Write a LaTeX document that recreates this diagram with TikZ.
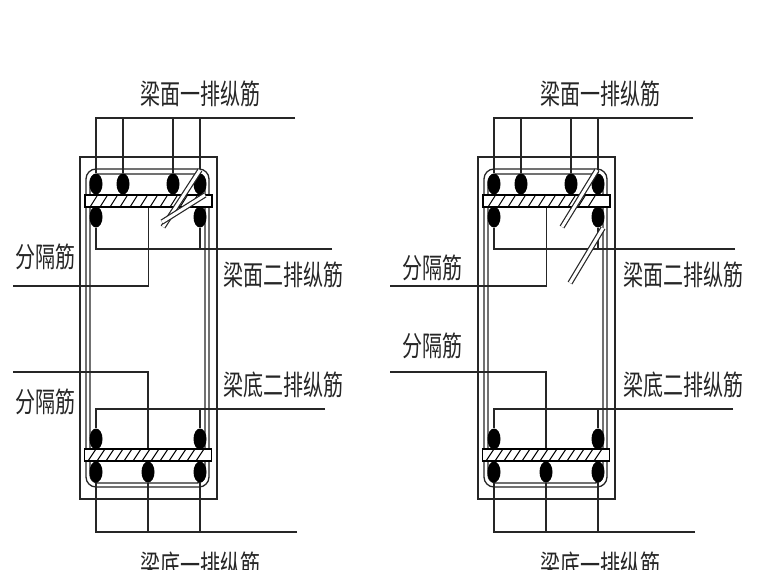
\documentclass[tikz,border=0pt]{standalone}
\usepackage{graphicx}
\usepackage{fontspec}
\usepackage{tikz}
\usetikzlibrary{shapes.geometric}
\newfontfamily\cjk{Noto Sans CJK SC}
\newcommand{\lbltext}[1]{\scalebox{1}[1.4]{#1}}
\tikzset{
  lead/.style={draw, line width=1.2pt, black!85},
  stirrup/.style={draw, line width=1.3pt, black!85},
  rebar/.style={ellipse, fill=black, inner sep=0pt, minimum width=13pt, minimum height=21pt},
  spacer/.style={rectangle, draw, fill=white, line width=1.2pt, inner sep=0pt, minimum width=127pt, minimum height=12pt},
  bentbar/.style={draw=black!85, line width=1.2pt, double=white, double distance=3pt},
  lbl/.style={inner sep=0pt, text=black!85, font=\cjk\fontsize{20}{20}\selectfont},
}
% parts that both sections share, leader ends are set in each scope
\newcommand{\beamsection}[1]{
  \draw[lead] (80,157) rectangle (217,499);
  \draw[stirrup, rounded corners=10pt] (86,169) rectangle (209,487);
  \draw[stirrup, rounded corners=8pt] (90,174) rectangle (205,483);
  \node (spacerT) [spacer] at (148.5,201) {};
  \node (spacerB) [spacer] at (148,455) {};
  \foreach \hx in {90,100,...,195} {\draw[line width=1pt] (\hx,207) -- (\hx+7,196);}
  \foreach \hx in {88,97,...,202} {\draw[line width=1pt] (\hx,461) -- (\hx+8,449);}
  \node (t1) [rebar] at (96,184) {};
  \node (t2) [rebar] at (123,184) {};
  \node (t3) [rebar] at (173,184) {};
  \node (t4) [rebar] at (200,184) {};
  \node (u1) [rebar] at (96,217) {};
  \node (u2) [rebar] at (200,217) {};
  \node (v1) [rebar] at (96,439) {};
  \node (v2) [rebar] at (200,439) {};
  \node (b1) [rebar] at (96,472) {};
  \node (b2) [rebar] at (148,472) {};
  \node (b3) [rebar] at (200,472) {};
  \draw[lead] (topend) -| (t1.north);
  \draw[lead] (t2.north) -- (t2 |- topend);
  \draw[lead] (t3.north) -- (t3 |- topend);
  \draw[lead] (t4.north) -- (t4 |- topend);
  \draw[lead] (secend) -| (u1.south);
  \draw[lead] (u2.south) -- (u2 |- secend);
  \draw[lead] (partT) -| (spacerT.south);
  \draw[lead] (partB) -| (spacerB.north);
  \draw[lead] (lowend) -| (v1.north);
  \draw[lead] (v2.north) -- (v2 |- lowend);
  \draw[lead] (botend) -| (b1.south);
  \draw[lead] (b2.south) -- (b2 |- botend);
  \draw[lead] (b3.south) -- (b3 |- botend);
  \node (topname) [lbl] at (200+#1,94) {\lbltext{梁面一排纵筋}};
  \node (secname) [lbl] at (283+#1,275) {\lbltext{梁面二排纵筋}};
  \node (lowname) [lbl] at (283+#1,385) {\lbltext{梁底二排纵筋}};
  \node (botname) [lbl] at (200+#1,565) {\lbltext{梁底一排纵筋}};
}

\begin{document}
\begin{tikzpicture}[x=1pt, y=-1pt]
  \useasboundingbox (0,0) rectangle (760,570);
  \clip (0,0) rectangle (760,570);
  \fill[white] (0,0) rectangle (760,570);
  % left section
  \begin{scope}[name prefix=L-]
    \coordinate (topend) at (295,118);
    \coordinate (secend) at (332,249);
    \coordinate (partT) at (13,286);
    \coordinate (partB) at (13,372);
    \coordinate (lowend) at (325,409);
    \coordinate (botend) at (297,532);
    \beamsection{0}
    \draw[bentbar] (200,170) -- (163,227);
    \draw[bentbar] (205,195) -- (162,222);
    \node (sepa) [lbl] at (45,257) {\lbltext{分隔筋}};
    \node (sepb) [lbl] at (45,402) {\lbltext{分隔筋}};
  \end{scope}
  % right section
  \begin{scope}[name prefix=R-, xshift=398pt]
    \coordinate (topend) at (295,118);
    \coordinate (secend) at (337,249);
    \coordinate (partT) at (-8,286);
    \coordinate (partB) at (-8,372);
    \coordinate (lowend) at (335,409);
    \coordinate (botend) at (297,532);
    \beamsection{2}
    \draw[bentbar] (199,170) -- (164,227);
    \draw[bentbar] (205,228) -- (172,283);
    \node (sepa) [lbl] at (34,268) {\lbltext{分隔筋}};
    \node (sepb) [lbl] at (34,346) {\lbltext{分隔筋}};
  \end{scope}
\end{tikzpicture}
\end{document}
